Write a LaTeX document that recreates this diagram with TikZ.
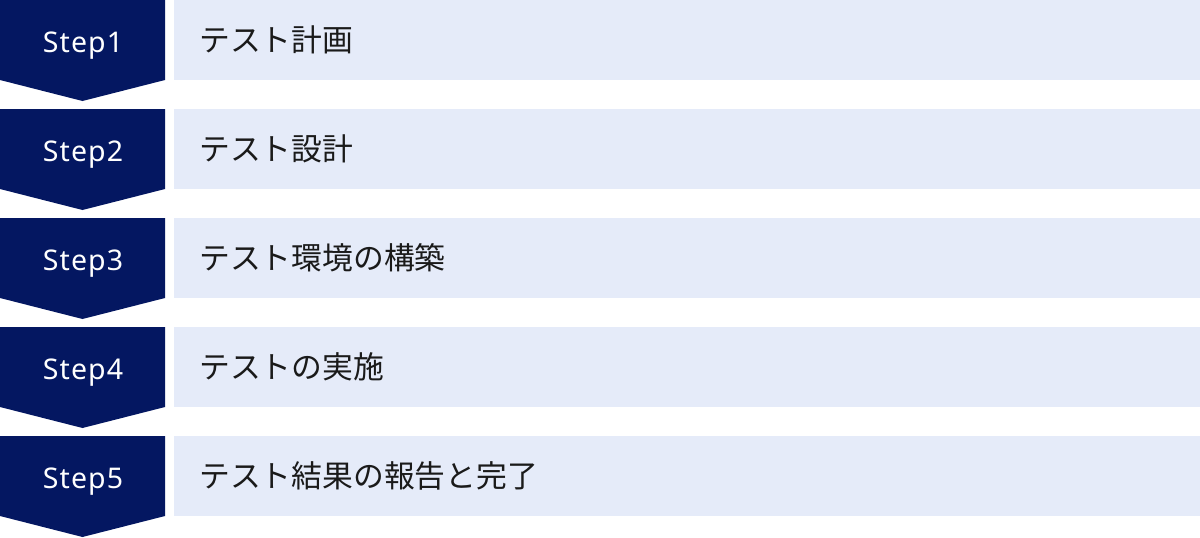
\documentclass[tikz,border=0pt]{standalone}
\usepackage{fontspec}
\setmainfont{Noto Sans CJK JP}
\newfontfamily\stepfont[LetterSpace=4]{Noto Sans}
\definecolor{navy}{HTML}{041761}
\definecolor{pale}{HTML}{E5EBF9}
\definecolor{ink}{HTML}{1A1A1A}
\tikzset{
  steplabel/.style={text=white, inner sep=0pt, anchor=base, font=\stepfont\fontsize{28.5pt}{34pt}\selectfont},
  tasklabel/.style={text=ink, inner sep=0pt, anchor=west, font=\fontsize{30.8pt}{36pt}\selectfont},
}
\begin{document}
\begin{tikzpicture}[x=1pt, y=-1pt]
\useasboundingbox (0,0) rectangle (1200,538);
\foreach \k/\t in {1/テスト計画, 2/テスト設計, 3/テスト環境の構築, 4/テストの実施, 5/テスト結果の報告と完了}{
  \pgfmathsetmacro{\yy}{109*(\k-1)}
  \fill[navy] (0,\yy) -- (165,\yy) -- (165,\yy+80) -- (82.5,\yy+101) -- (0,\yy+80) -- cycle;
  \fill[pale] (174,\yy) rectangle (1200,\yy+80);
  \node[steplabel] (s\k) at (83,\yy+52.5) {Step\k};
  \node[tasklabel] (t\k) at (199,\yy+40) {\t};
}
\end{tikzpicture}
\end{document}
